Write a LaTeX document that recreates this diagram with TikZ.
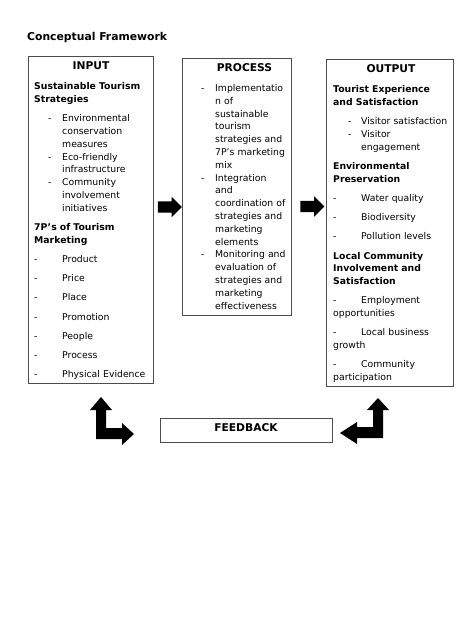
\documentclass[tikz,border=0pt]{standalone}
\usepackage{fontspec}
\setmainfont{DejaVu Sans}
\usetikzlibrary{shapes.arrows}

\begin{document}
\begin{tikzpicture}[x=1pt,y=-1pt,
    frame/.style={draw=black!70,line width=0.8pt,anchor=north west,inner sep=0pt},
    headtext/.style={anchor=base,inner sep=0pt,font=\fontsize{10.7}{12.8}\selectfont\bfseries},
    bodytext/.style={anchor=base west,inner sep=0pt,align=left,font=\fontsize{9.3}{12.8}\selectfont},
    blockarrow/.style={single arrow,fill=black,inner sep=5.5pt,minimum height=24pt,single arrow head extend=4.5pt}]
    \useasboundingbox (0,0) rectangle (474,632);

    \node[anchor=base west,inner sep=0pt,font=\fontsize{10.8}{12}\selectfont\bfseries] (title) at (27,40) {Conceptual Framework};

    % boxes
    \node[frame,minimum width=125pt,minimum height=327pt] (input) at (28,56) {};
    \node[frame,minimum width=109pt,minimum height=257pt] (process) at (182,58) {};
    \node[frame,minimum width=127pt,minimum height=327pt] (output) at (326,59) {};
    \node[frame,minimum width=172pt,minimum height=24pt] (feedback) at (160,418) {};

    \node[headtext] (inputhead) at (91,69.5) {INPUT};
    \node[headtext] (processhead) at (244.5,71.5) {PROCESS};
    \node[headtext] (outputhead) at (391,72.5) {OUTPUT};
    \node[headtext] (feedbackhead) at (246,431) {FEEDBACK};

    \node[bodytext,text width=115pt] (inputbody) at (34,89.7) {%
        \textbf{Sustainable Tourism}\\
        \textbf{Strategies}\\[6.4pt]
        \hspace*{14pt}\makebox[14pt][l]{-}Environmental\\
        \hspace*{28pt}conservation\\
        \hspace*{28pt}measures\\
        \hspace*{14pt}\makebox[14pt][l]{-}Eco-friendly\\
        \hspace*{28pt}infrastructure\\
        \hspace*{14pt}\makebox[14pt][l]{-}Community\\
        \hspace*{28pt}involvement\\
        \hspace*{28pt}initiatives\\[6.4pt]
        \textbf{7P’s of Tourism}\\
        \textbf{Marketing}\\[6.4pt]
        \makebox[28pt][l]{-}Product\\[6.4pt]
        \makebox[28pt][l]{-}Price\\[6.4pt]
        \makebox[28pt][l]{-}Place\\[6.4pt]
        \makebox[28pt][l]{-}Promotion\\[6.4pt]
        \makebox[28pt][l]{-}People\\[6.4pt]
        \makebox[28pt][l]{-}Process\\[6.4pt]
        \makebox[28pt][l]{-}Physical Evidence};

    \node[bodytext,text width=95pt] (processbody) at (201,91.5) {%
        \makebox[14pt][l]{-}Implementatio\\
        \hspace*{14pt}n of\\
        \hspace*{14pt}sustainable\\
        \hspace*{14pt}tourism\\
        \hspace*{14pt}strategies and\\
        \hspace*{14pt}7P’s marketing\\
        \hspace*{14pt}mix\\
        \makebox[14pt][l]{-}Integration\\
        \hspace*{14pt}and\\
        \hspace*{14pt}coordination of\\
        \hspace*{14pt}strategies and\\
        \hspace*{14pt}marketing\\
        \hspace*{14pt}elements\\
        \makebox[14pt][l]{-}Monitoring and\\
        \hspace*{14pt}evaluation of\\
        \hspace*{14pt}strategies and\\
        \hspace*{14pt}marketing\\
        \hspace*{14pt}effectiveness};

    \node[bodytext,text width=118pt] (outputbody) at (333,92.7) {%
        \textbf{Tourist Experience}\\
        \textbf{and Satisfaction}\\[6.4pt]
        \hspace*{15pt}\makebox[13pt][l]{-}Visitor satisfaction\\
        \hspace*{15pt}\makebox[13pt][l]{-}Visitor\\
        \hspace*{28pt}engagement\\[6.4pt]
        \textbf{Environmental}\\
        \textbf{Preservation}\\[6.4pt]
        \makebox[28pt][l]{-}Water quality\\[6.4pt]
        \makebox[28pt][l]{-}Biodiversity\\[6.4pt]
        \makebox[28pt][l]{-}Pollution levels\\[6.4pt]
        \textbf{Local Community}\\
        \textbf{Involvement and}\\
        \textbf{Satisfaction}\\[6.4pt]
        \makebox[28pt][l]{-}Employment\\
        opportunities\\[6.4pt]
        \makebox[28pt][l]{-}Local business\\
        growth\\[6.4pt]
        \makebox[28pt][l]{-}Community\\
        participation};

    % arrows
    \node[blockarrow] (toprocess) at (167,207) {};
    \node[blockarrow] (tooutput) at (309.5,206.5) {};

    \fill (101,397) -- (112,410) -- (106,410) -- (106,428) -- (122,428) -- (122,423)
        -- (134,434) -- (122,445) -- (122,439) -- (96,439) -- (96,410) -- (90,410) -- cycle;
    \fill (378,398) -- (389,410) -- (383,410) -- (383,438) -- (357,438) -- (357,444)
        -- (340,433) -- (357,422) -- (357,427) -- (373,427) -- (373,410) -- (367,410) -- cycle;
\end{tikzpicture}
\end{document}
